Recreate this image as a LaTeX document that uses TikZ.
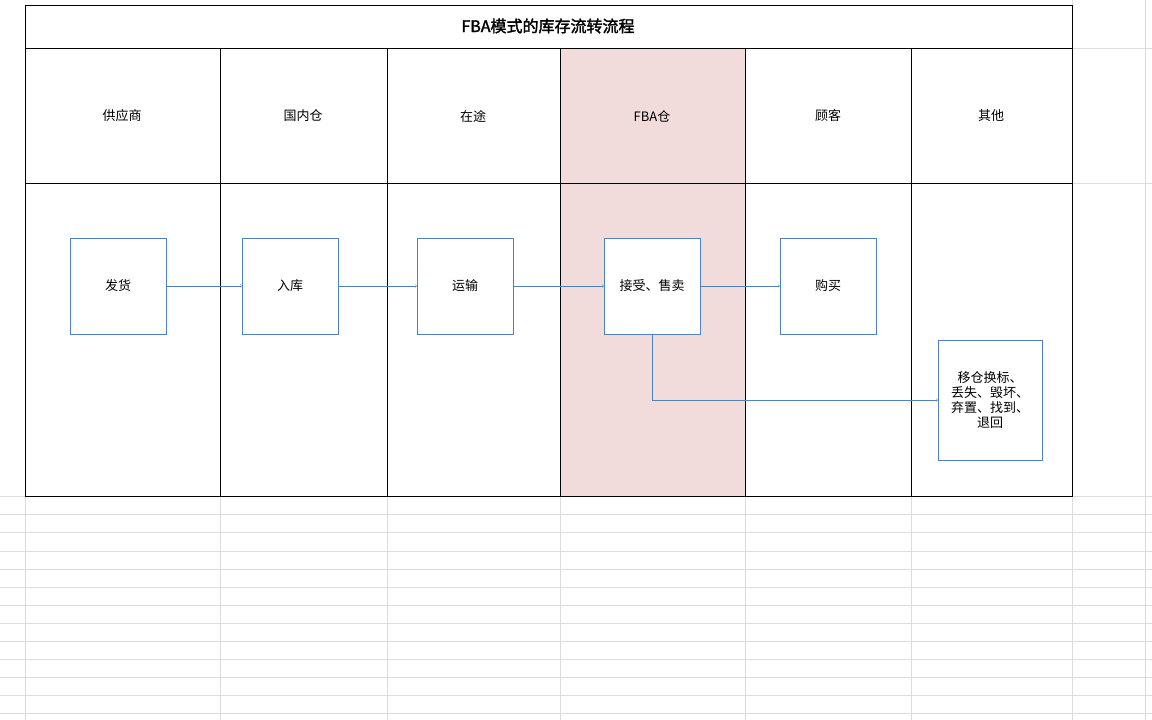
\documentclass[tikz,border=0pt]{standalone}
\usepackage{fontspec}
\setmainfont{Noto Sans CJK SC}
\newfontfamily\cjkbold{Noto Sans CJK SC}[FakeBold=2]
\usetikzlibrary{arrows,positioning,calc}
\definecolor{lineblue}{RGB}{79,129,189}
\definecolor{fbapink}{RGB}{241,219,219}
\definecolor{gridgray}{RGB}{218,220,224}
\tikzset{
  stepbox/.style={rectangle, draw=lineblue, fill=white, minimum width=96pt, minimum height=96pt, font=\fontsize{13}{15}\selectfont},
  flow/.style={->, draw=lineblue},
  lane/.style={font=\fontsize{13}{15}\selectfont}
}
\begin{document}
\begin{tikzpicture}[x=1pt, y=-1pt]
    \useasboundingbox (0,0) rectangle (1152,720);
    % Sheet grid
    \foreach \y in {496,514,532,551,569,587,605,623,641,659,677,695,713}
        \draw[gridgray] (0,\y) -- (1152,\y);
    \draw[gridgray] (1072,183) -- (1152,183);
    \draw[gridgray] (1072,48) -- (1152,48);
    \foreach \x in {25,220,387,560,745,911,1072}
        \draw[gridgray] (\x,496) -- (\x,720);
    \draw[gridgray] (1145,0) -- (1145,720);
    \draw[gridgray] (1072,0) -- (1072,5);
    % FBA lane
    \fill[fbapink] (560,48) rectangle (745,496);
    % Table
    \draw (25,5) rectangle (1072,496);
    \draw (25,48) -- (1072,48);
    \draw (25,183) -- (1072,183);
    \foreach \x in {220,387,560,745,911}
        \draw (\x,48) -- (\x,496);
    \node[font=\cjkbold\fontsize{16}{18}\selectfont] (title) at (548,26) {FBA模式的库存流转流程};
    % Lane headers
    \node[lane] (h1) at (122,116) {供应商};
    \node[lane] (h2) at (303,116) {国内仓};
    \node[lane] (h3) at (473,116) {在途};
    \node[lane] (h4) at (652,116) {FBA仓};
    \node[lane] (h5) at (828,116) {顾客};
    \node[lane] (h6) at (991,116) {其他};
    % Steps
    \node[stepbox] (ship) at (118,286) {发货};
    \node[stepbox] (store) at (290,286) {入库};
    \node[stepbox] (transport) at (465,286) {运输};
    \node[stepbox] (sell) at (652,286) {接受、售卖};
    \node[stepbox] (buy) at (828,286) {购买};
    \node[stepbox, minimum width=104pt, minimum height=120pt, align=center] (other) at (990,400) {移仓换标、\\丢失、毁坏、\\弃置、找到、\\退回};
    % Arrows
    \draw[flow] (ship) -- (store);
    \draw[flow] (store) -- (transport);
    \draw[flow] (transport) -- (sell);
    \draw[flow] (sell) -- (buy);
    \draw[flow] (sell.south) |- (other.west);
\end{tikzpicture}
\end{document}
